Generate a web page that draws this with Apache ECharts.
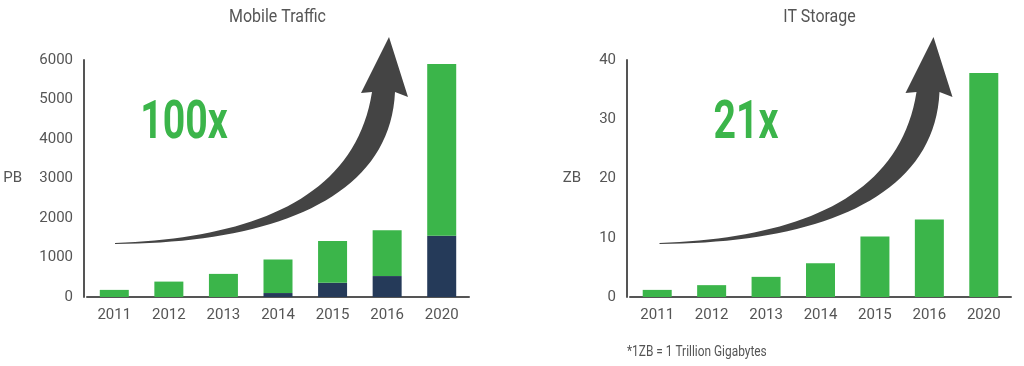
<!DOCTYPE html>
<html>
<head>
<meta charset="utf-8">
<style>
html,body{margin:0;padding:0;background:#fff;}
#c{width:1024px;height:366px;}
</style>
<script src="https://cdn.jsdelivr.net/npm/echarts@6/dist/echarts.min.js"></script>
</head>
<body>
<div id="c"></div>
<script>
const years = ['2011','2012','2013','2014','2015','2016','2020'];
const trafficDark = [0, 0, 0, 100, 360, 530, 1550];
const trafficGreen = [180, 390, 585, 850, 1055, 1160, 4350];
const storage = [1.2, 2.0, 3.4, 5.7, 10.2, 13.1, 37.8];
const titles = ['Mobile Traffic', 'IT Storage'];
const units = ['PB', 'ZB'];
const badges = ['100x', '21x'];
const footnote = '*1ZB = 1 Trillion Gigabytes';

const FONT = "Roboto, 'Liberation Sans', sans-serif";
const GREEN = '#3bb54a';
const NAVY = '#253a59';
const GREY = '#555555';

function bez(p0, p1, p2, p3, n) {
  const pts = [];
  for (let i = 0; i <= n; i++) {
    const t = i / n, u = 1 - t;
    pts.push([
      u*u*u*p0[0] + 3*u*u*t*p1[0] + 3*u*t*t*p2[0] + t*t*t*p3[0],
      u*u*u*p0[1] + 3*u*u*t*p1[1] + 3*u*t*t*p2[1] + t*t*t*p3[1]
    ]);
  }
  return pts;
}
function arrow(dx) {
  const s = p => [p[0] + dx, p[1]];
  const upper = bez(s([115,243]), s([250,238]), s([355,200]), s([372,92]), 40);
  const lower = bez(s([395,92]), s([390,200]), s([270,243]), s([115,244]), 40);
  const head = [s([361,93]), s([389,37]), s([408,97])];
  return {
    type: 'polygon', silent: true, z: 1,
    shape: { points: upper.concat(head, lower) },
    style: { fill: '#444444' }
  };
}
function label(text, x, y, font, fill, align, sx) {
  return {
    type: 'text', x: x, y: y, scaleX: sx, silent: true, z: 5,
    style: { text: text, fill: fill, font: font, textAlign: align, textVerticalAlign: 'middle' }
  };
}

const axisLine = { show: true, lineStyle: { color: GREY, width: 2 } };
function yAxis(idx, max, interval) {
  return {
    type: 'value', gridIndex: idx, min: 0, max: max, interval: interval,
    offset: 3,
    name: units[idx], nameLocation: 'middle', nameRotate: 0,
    nameGap: idx === 0 ? 62 : 46,
    nameTextStyle: { color: GREY, fontSize: 15, fontFamily: FONT },
    axisLine: axisLine, axisTick: { show: false }, splitLine: { show: false },
    axisLabel: { color: GREY, fontSize: 15, fontFamily: FONT, margin: 11,
      formatter: v => String(v) }
  };
}
function xAxis(idx) {
  return {
    type: 'category', gridIndex: idx, data: years,
    axisLine: axisLine, axisTick: { show: false },
    axisLabel: { color: GREY, fontSize: 15, fontFamily: FONT, margin: 11 }
  };
}

const chart = echarts.init(document.getElementById('c'));
chart.setOption({
  backgroundColor: '#ffffff',
  animation: false,
  grid: [
    { left: 87, top: 60, width: 382, height: 237 },
    { left: 630, top: 60, width: 381, height: 237 }
  ],
  xAxis: [xAxis(0), xAxis(1)],
  yAxis: [yAxis(0, 6000, 1000), yAxis(1, 40, 10)],
  series: [
    { type: 'bar', xAxisIndex: 0, yAxisIndex: 0, stack: 't', data: trafficDark,
      barWidth: 29, itemStyle: { color: NAVY }, z: 3 },
    { type: 'bar', xAxisIndex: 0, yAxisIndex: 0, stack: 't', data: trafficGreen,
      barWidth: 29, itemStyle: { color: GREEN }, z: 3 },
    { type: 'bar', xAxisIndex: 1, yAxisIndex: 1, data: storage,
      barWidth: 29, itemStyle: { color: GREEN }, z: 3 }
  ],
  graphic: [
    arrow(0),
    arrow(544.5),
    label(titles[0], 277.5, 17, '19px ' + FONT, GREY, 'center', 0.84),
    label(titles[1], 819.5, 17, '19px ' + FONT, GREY, 'center', 0.84),
    label(badges[0], 184, 125, 'bold 53px ' + FONT, GREEN, 'center', 0.74),
    label(badges[1], 746, 125, 'bold 53px ' + FONT, GREEN, 'center', 0.74),
    label(footnote, 627, 352, '14px ' + FONT, GREY, 'left', 0.85)
  ]
});
</script>
</body>
</html>
